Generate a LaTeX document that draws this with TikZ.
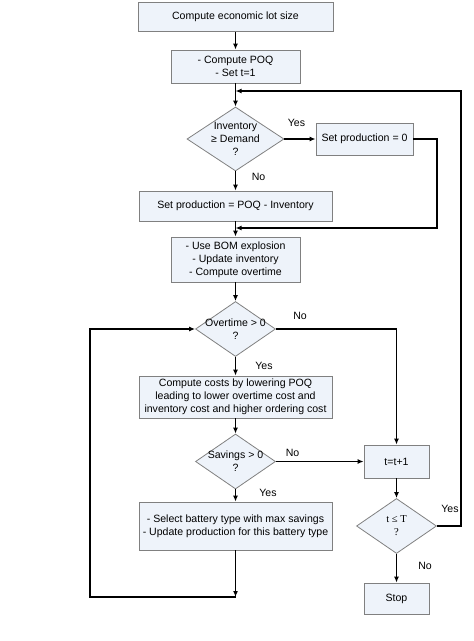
\documentclass[tikz,border=0pt]{standalone}
\usepackage{fontspec}
\setmainfont{Liberation Sans}
\newfontfamily\serifface{Liberation Serif}
\usetikzlibrary{shapes.geometric,arrows.meta}
\definecolor{boxfill}{HTML}{EEF3FA}
\definecolor{boxline}{HTML}{808080}
\tikzset{
  every node/.style={font=\fontsize{10.6}{13}\selectfont},
  procbox/.style={draw=boxline, fill=boxfill, line width=0.8bp, inner sep=0pt, align=center},
  decbox/.style={diamond, draw=boxline, fill=boxfill, line width=0.8bp, inner sep=0pt},
  txt/.style={align=center, inner sep=0pt},
  lbl/.style={inner sep=0pt},
  flow/.style={line width=1.2bp, -{Latex[length=6bp,width=5bp]}},
}
\begin{document}
\begin{tikzpicture}[x=1bp,y=-1bp]
\useasboundingbox (0,0) rectangle (474,641);
% process boxes
\node[procbox, minimum width=195bp, minimum height=29bp] (b1) at (235.5,17) {Compute economic lot size};
\node[procbox, minimum width=129bp, minimum height=33bp] (b2) at (235.5,66.5) {- Compute POQ\\- Set t=1};
\node[decbox, minimum width=97bp, minimum height=64bp] (d1) at (235.5,139) {};
\node[txt] (d1t) at (235.5,139) {Inventory\\≥ Demand\\?};
\node[procbox, minimum width=97bp, minimum height=32bp] (b0) at (364.5,139) {Set production = 0};
\node[procbox, minimum width=193bp, minimum height=30bp] (b3) at (235.5,206) {Set production = POQ - Inventory};
\node[procbox, minimum width=129bp, minimum height=45bp] (b4) at (235.5,259.5) {- Use BOM explosion\\- Update inventory\\- Compute overtime};
\node[decbox, minimum width=80bp, minimum height=55bp] (d2) at (235.5,329) {};
\node[txt] (d2t) at (235.5,329) {Overtime > 0\\?};
\node[procbox, minimum width=193bp, minimum height=42bp] (b5) at (235.5,397) {Compute costs by lowering POQ\\leading to lower overtime cost and\\inventory cost and higher ordering cost};
\node[decbox, minimum width=80bp, minimum height=55bp] (d3) at (235.5,461.5) {};
\node[txt] (d3t) at (235.5,461.5) {Savings > 0\\?};
\node[procbox, minimum width=193bp, minimum height=48bp] (b6) at (235.5,526) {- Select battery type with max savings\\- Update production for this battery type};
\node[procbox, minimum width=65bp, minimum height=33bp] (bt) at (396.5,461.5) {t=t+1};
\node[decbox, minimum width=80bp, minimum height=55bp] (d4) at (396.5,526) {};
\node[txt, font=\serifface\fontsize{10.6}{13}\selectfont] (d4t) at (396.5,526) {t ≤ T\\?};
\node[procbox, minimum width=65bp, minimum height=31bp] (bs) at (396.5,598.5) {Stop};
% helper coordinates
\coordinate (m1) at (235.5,91);
\coordinate (m2) at (235.5,228);
\coordinate (r1) at (437,139);
\coordinate (r2) at (437,228);
\coordinate (o1) at (461,526);
\coordinate (o2) at (461,91);
\coordinate (c1) at (396.5,329);
\coordinate (l0) at (235.5,597);
\coordinate (l1) at (90,597);
\coordinate (l2) at (90,329);
% connectors
\draw[flow] (b1.south) -- (b2.north);
\draw[flow] (b2.south) -- (d1.north);
\draw[flow] (d1.east) -- (b0.west);
\draw[flow] (d1.south) -- (b3.north);
\draw[flow] (b0.east) -- (r1) -- (r2) -- (m2);
\draw[flow] (b3.south) -- (b4.north);
\draw[flow] (b4.south) -- (d2.north);
\draw[flow] (d2.south) -- (b5.north);
\draw[flow] (d2.east) -- (c1) -- (bt.north);
\draw[flow] (b5.south) -- (d3.north);
\draw[flow] (d3.east) -- (bt.west);
\draw[flow] (d3.south) -- (b6.north);
\draw[flow] (b6.south) -- (l0);
\draw[flow] (l0) -- (l1) -- (l2) -- (d2.west);
\draw[flow] (bt.south) -- (d4.north);
\draw[flow] (d4.south) -- (bs.north);
\draw[flow] (d4.east) -- (o1) -- (o2) -- (m1);
% labels
\node[lbl] (y1) at (296.5,123) {Yes};
\node[lbl] (n1) at (258.5,177) {No};
\node[lbl] (n2) at (300,316) {No};
\node[lbl] (y2) at (264,366) {Yes};
\node[lbl] (n3) at (292.5,453) {No};
\node[lbl] (y3) at (268,493) {Yes};
\node[lbl] (y4) at (450,509) {Yes};
\node[lbl] (n4) at (425,566) {No};
\end{tikzpicture}
\end{document}
